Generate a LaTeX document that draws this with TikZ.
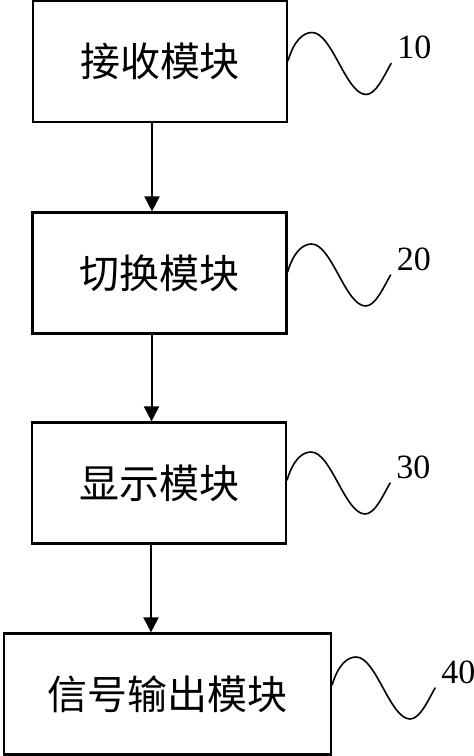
\documentclass[tikz,border=0pt]{standalone}
\usepackage{fontspec}
\setmainfont{Liberation Serif}
\newfontfamily\cjk{Noto Sans CJK SC}
\usetikzlibrary{positioning,arrows.meta,calc}

\begin{document}
\begin{tikzpicture}[
  x=1pt, y=-1pt,
  >={Triangle[length=15pt, width=15pt]},
  module/.style={draw=black, line width=2.2pt, minimum height=121pt, inner sep=0pt,
                 font=\cjk\fontsize{40}{40}\selectfont},
  flow/.style={->, line width=2pt},
  wave/.style={line width=1.6pt, line cap=round},
  refno/.style={anchor=west, inner sep=0pt, font=\fontsize{34}{34}\selectfont},
]
\useasboundingbox (0,0) rectangle (474,756);

% ---- the four modules, top to bottom ----
\node[module, minimum width=254pt] (recv)   at (160,61.5) {接收模块};
\node[module, minimum width=254pt] (switch) at (159.5,273) {切换模块};
\node[module, minimum width=254pt] (disp)   at (159,483)  {显示模块};
\node[module, minimum width=327pt] (out)    at (167.5,694) {信号输出模块};

% ---- signal flow (arrows sit a little left of the box centres) ----
\foreach \a/\b in {recv/switch, switch/disp, disp/out}
  \draw[flow] ([xshift=-8pt]\a.south) -- ([xshift=-8pt]\a.south |- \b.north);

% ---- wavy leader lines with reference numbers ----
\foreach \m/\num/\dy in {recv/10/-1, switch/20/-1, disp/30/-3, out/40/-9}{
  \coordinate (w\num) at ($(\m.east)+(0,\dy)$);
  \draw[wave] (w\num) .. controls +(6,-20) and +(-9,0) .. ++(24,-28)
                      .. controls +(20,0) and +(-20,0) .. ++(54,62)
                      .. controls +(10,0) and +(-7,12) .. ++(25,-31);
  \node[refno] (n\num) at ($(w\num)+(109,-13)$) {\num};
}
\end{tikzpicture}
\end{document}
